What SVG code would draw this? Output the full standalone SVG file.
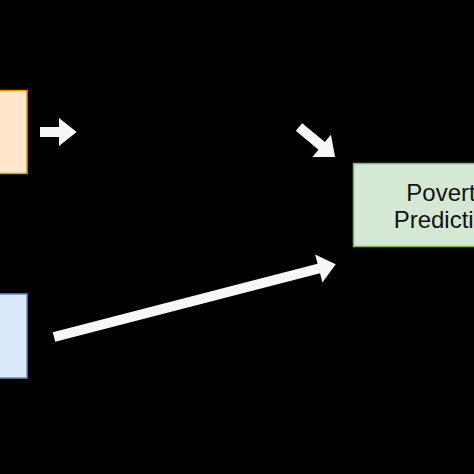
<svg xmlns="http://www.w3.org/2000/svg" width="474" height="474" viewBox="0 0 474 474">
<style>
.node{stroke-width:1.5}
.arrow{fill:#f7f7f7;stroke:none}
.label{font-family:"Liberation Sans",Arial,sans-serif;font-size:24px;fill:#111;text-anchor:middle}
</style>
<rect x="0" y="0" width="474" height="474" fill="#000"/>
<g id="node-orange">
<rect class="node" x="-10" y="90.5" width="37" height="83" fill="#ffe6cc" stroke="#d79b00"/>
</g>
<g id="node-blue">
<rect class="node" x="-10" y="294" width="37" height="84" fill="#dae8fc" stroke="#6c8ebf"/>
</g>
<g id="node-poverty">
<rect class="node" x="353.5" y="163.5" width="187" height="83" fill="#d5e8d4" stroke="#82b366"/>
<text class="label" x="447" y="201">Poverty</text>
<text class="label" x="447" y="227.5">Prediction</text>
</g>
<g id="connectors">
<polygon class="arrow" transform="translate(40,132)" points="0,-5 19,-5 19,-14 36.7,0 19,14 19,5 0,5"/>
<polygon class="arrow" transform="translate(299,127) rotate(39.8)" points="0,-5 29.5,-5 29.5,-14.5 47,0 29.5,14.5 29.5,5 0,5"/>
<polygon class="arrow" transform="translate(54,337) rotate(-14.5)" points="0,-5 273.5,-5 273.5,-14.5 291,0 273.5,14.5 273.5,5 0,5"/>
</g>
</svg>
